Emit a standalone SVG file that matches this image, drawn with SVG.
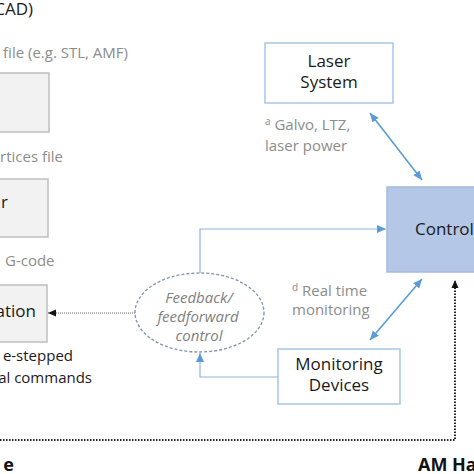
<svg xmlns="http://www.w3.org/2000/svg" width="474" height="474" viewBox="0 0 474 474">
<style>
  .sw{fill:#f2f2f2;stroke:#bfbfbf;stroke-width:1.5}
  .bl{fill:#ffffff;stroke:#a9c6e6;stroke-width:1.5}
  .ct{fill:#b4c7e7;stroke:#a3bbe0;stroke-width:1.5}
  .lbl{font-family:"Open Sans","Noto Sans",sans-serif;font-size:17px;fill:#1a1a1a}
  .gry{font-family:"Open Sans","Noto Sans",sans-serif;font-size:15px;fill:#8c8c8c}
  .blk{font-family:"Open Sans","Noto Sans",sans-serif;font-size:15px;fill:#1a1a1a}
  .ell{font-family:"Open Sans","Noto Sans",sans-serif;font-size:15px;font-style:italic;fill:#7f7f7f}
  .hd{font-family:"Open Sans","Noto Sans",sans-serif;font-size:18px;font-weight:bold;fill:#111}
  .blu{fill:none;stroke:#5b9bd5;stroke-width:1.6}
  .lblu{fill:none;stroke:#8fb4e0;stroke-width:1.2}
</style>
<defs>
  <marker id="ab" markerUnits="userSpaceOnUse" markerWidth="10" markerHeight="10" refX="9" refY="5" orient="auto-start-reverse" viewBox="0 0 10 10">
    <path d="M0,1 L9,5 L0,9 Z" fill="#5b9bd5"/>
  </marker>
  <marker id="ak" markerUnits="userSpaceOnUse" markerWidth="9" markerHeight="9" refX="8" refY="4.5" orient="auto" viewBox="0 0 9 9">
    <path d="M0,1 L8,4.5 L0,8 Z" fill="#111"/>
  </marker>
</defs>

<text class="lbl" x="33" y="15" text-anchor="end" font-size="18">CAD)</text>
<text class="gry" x="128" y="58" text-anchor="end">file (e.g. STL, AMF)</text>
<text class="gry" x="63" y="162" text-anchor="end">rtices file</text>
<text class="gry" x="5" y="266">G-code</text>
<text class="blk" x="73" y="361" text-anchor="end">e-stepped</text>
<text class="blk" x="92" y="383" text-anchor="end">al commands</text>
<text class="hd" x="14" y="471" text-anchor="end">e</text>
<text class="hd" x="418" y="471">AM Ha</text>

<g id="box1"><rect class="sw" x="-2" y="73" width="51" height="59"/></g>
<g id="box2"><rect class="sw" x="-2" y="179" width="50" height="58"/><text class="lbl" x="8" y="208" text-anchor="end">r</text></g>
<g id="box3"><rect class="sw" x="-2" y="285" width="49" height="57"/><text class="lbl" x="36" y="317" text-anchor="end">ation</text></g>

<g id="laser">
  <rect class="bl" x="265" y="43" width="128" height="60"/>
  <text class="lbl" x="329" y="67" text-anchor="middle">Laser</text>
  <text class="lbl" x="329" y="88" text-anchor="middle">System</text>
</g>
<g id="laser-note">
  <text class="gry" x="265" y="130"><tspan font-size="10" dy="-5">a</tspan><tspan dy="5"> Galvo, LTZ,</tspan></text>
  <text class="gry" x="265" y="151">laser power</text>
</g>

<g id="controller">
  <rect class="ct" x="387" y="187" width="95" height="85"/>
  <text class="lbl" x="415" y="235">Control</text>
</g>

<g id="monitoring">
  <rect class="bl" x="278" y="349" width="122" height="55"/>
  <text class="lbl" x="339" y="370" text-anchor="middle">Monitoring</text>
  <text class="lbl" x="339" y="391" text-anchor="middle">Devices</text>
</g>
<g id="monitor-note">
  <text class="gry" x="292" y="296"><tspan font-size="10" dy="-5">d</tspan><tspan dy="5"> Real time</tspan></text>
  <text class="gry" x="292" y="315">monitoring</text>
</g>

<g id="feedback">
  <ellipse cx="199.5" cy="312.5" rx="64.5" ry="39.5" fill="#ffffff" stroke="#7f93ad" stroke-width="1.3" stroke-dasharray="3,2"/>
  <text class="ell" x="199" y="303" text-anchor="middle">Feedback/</text>
  <text class="ell" x="198" y="322" text-anchor="middle">feedforward</text>
  <text class="ell" x="199" y="341" text-anchor="middle">control</text>
</g>

<g id="connectors">
  <line class="blu" x1="370" y1="113" x2="422" y2="180" marker-start="url(#ab)" marker-end="url(#ab)"/>
  <line class="blu" x1="370" y1="340" x2="422" y2="279" marker-start="url(#ab)" marker-end="url(#ab)"/>
  <path class="lblu" d="M200,273 V229 H386" marker-end="url(#ab)"/>
  <path class="lblu" d="M278,377 H200 V353" marker-end="url(#ab)"/>
  <line x1="135" y1="313" x2="48" y2="313" stroke="#666" stroke-width="1.2" stroke-dasharray="1,1" marker-end="url(#ak)"/>
  <path d="M0,440 H455 V280" fill="none" stroke="#222" stroke-width="2" stroke-dasharray="1.5,1.5" marker-end="url(#ak)"/>
</g>
</svg>
